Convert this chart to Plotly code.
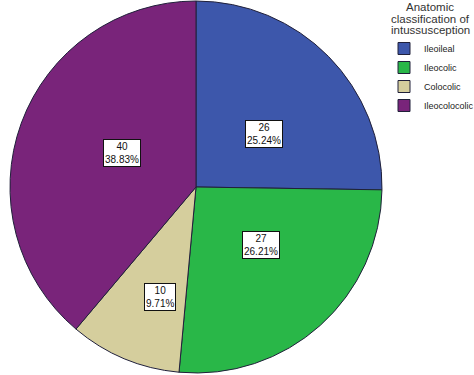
import math
import plotly.graph_objects as go

categories = ["Ileoileal", "Ileocolic", "Colocolic", "Ileocolocolic"]
counts = [26, 27, 10, 40]
colors = ["#3D57AB", "#29B748", "#D5CE9D", "#79247A"]
legend_title_lines = ["Anatomic", "classification of", "intussusception"]

W, H = 474, 375
cx_px, cy_px, r_px = 196, 187, 186
label_frac = [0.51, 0.52, 0.72, 0.53]

dom_x = [(cx_px - r_px) / W, (cx_px + r_px) / W]
dom_y = [1 - (cy_px + r_px) / H, 1 - (cy_px - r_px) / H]

fig = go.Figure(go.Pie(
    labels=categories, values=counts, sort=False, direction="clockwise", rotation=0,
    marker=dict(colors=colors, line=dict(color="#20203a", width=1)),
    textinfo="none", hoverinfo="label+value+percent",
    domain=dict(x=dom_x, y=dom_y),
))

total = sum(counts)
cum = 0
annotations = []
for i, v in enumerate(counts):
    mid = (cum + v / 2) / total * 2 * math.pi
    cum += v
    d = r_px * label_frac[i]
    xp = (cx_px + d * math.sin(mid)) / W
    yp = 1 - (cy_px - d * math.cos(mid)) / H
    pct = v / total * 100
    annotations.append(dict(
        x=xp, y=yp, xref="paper", yref="paper", showarrow=False,
        text=f"{v}<br>{pct:.2f}%", align="center",
        font=dict(family="Arial, Liberation Sans", size=10, color="#111"),
        bgcolor="white", bordercolor="#111", borderwidth=1, borderpad=1,
    ))

for j, line in enumerate(legend_title_lines):
    annotations.append(dict(
        x=430 / W, y=1 - (7 + 11.5 * j) / H, xref="paper", yref="paper",
        xanchor="center", yanchor="middle", showarrow=False, text=line,
        font=dict(family="Arial, Liberation Sans", size=11.5, color="#333"),
        borderpad=0,
    ))

fig.update_layout(
    width=W, height=H, margin=dict(l=0, r=0, t=0, b=0, autoexpand=False),
    paper_bgcolor="white", plot_bgcolor="white",
    font=dict(family="Arial, Liberation Sans"),
    annotations=annotations,
    legend=dict(
        x=384 / W, y=1 - 34 / H, xanchor="left", yanchor="top",
        font=dict(size=9, color="#222"),
        itemwidth=30, tracegroupgap=0, bgcolor="rgba(0,0,0,0)",
    ),
)

fig.write_html("out.html", config={"displayModeBar": False},
               post_script="document.body.style.margin='0';")
